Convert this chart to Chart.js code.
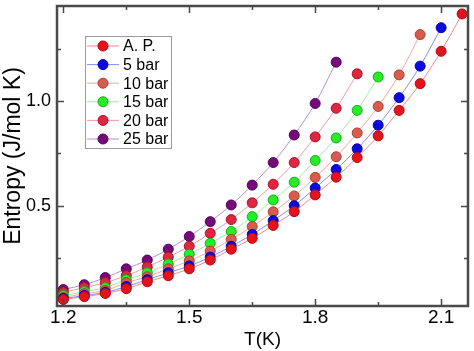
<!DOCTYPE html>
<html>
<head>
<meta charset="utf-8">
<script src="https://cdn.jsdelivr.net/npm/chart.js@4"></script>
<style>
  html, body { margin: 0; padding: 0; background: #fff; }
  #wrap { width: 474px; height: 351px; }
</style>
</head>
<body>
<div id="wrap"><canvas id="entropyChart" width="474" height="351"></canvas></div>
<script>
// Temperatures (K) shared by all runs
const temps = [1.2, 1.25, 1.3, 1.35, 1.4, 1.45, 1.5, 1.55, 1.6, 1.65,
               1.7, 1.75, 1.8, 1.85, 1.9, 1.95, 2.0, 2.05, 2.1, 2.15];

// Entropy (J/mol K) per pressure
const entropyAP    = [0.050, 0.064, 0.079, 0.102, 0.135, 0.164, 0.197, 0.239, 0.291, 0.343,
                      0.405, 0.471, 0.551, 0.636, 0.730, 0.834, 0.956, 1.084, 1.239, 1.418];
const entropy5bar  = [0.055, 0.069, 0.084, 0.112, 0.145, 0.178, 0.211, 0.253, 0.305, 0.362,
                      0.428, 0.499, 0.584, 0.673, 0.772, 0.885, 1.017, 1.168, 1.352];
const entropy10bar = [0.060, 0.078, 0.093, 0.131, 0.159, 0.197, 0.235, 0.282, 0.338, 0.400,
                      0.470, 0.546, 0.635, 0.734, 0.848, 0.975, 1.126, 1.319];
const entropy15bar = [0.069, 0.088, 0.107, 0.145, 0.178, 0.220, 0.267, 0.319, 0.376, 0.447,
                      0.527, 0.612, 0.716, 0.824, 0.956, 1.116];
const entropy20bar = [0.084, 0.107, 0.131, 0.164, 0.206, 0.253, 0.305, 0.367, 0.433, 0.513,
                      0.602, 0.706, 0.829, 0.966, 1.131];
const entropy25bar = [0.098, 0.121, 0.155, 0.197, 0.239, 0.291, 0.352, 0.423, 0.503, 0.598,
                      0.706, 0.838, 0.989, 1.187];

const seriesLabels = ['A. P.', '5 bar', '10 bar', '15 bar', '20 bar', '25 bar'];

// Tick labels
const xTicks = [1.2, 1.5, 1.8, 2.1];
const xMinorTicks = [1.35, 1.65, 1.95];
const yTicks = [0.5, 1.0];
const yMinorTicks = [0.25, 0.75, 1.25];

const FONT = '"Liberation Sans", Arial, sans-serif';

function toPoints(values) {
    return values.map((v, i) => ({ x: temps[i], y: v }));
}

function makeSet(label, values, pointColor, pointBorder, lineColor) {
    return {
        label: label,
        data: toPoints(values),
        borderColor: lineColor,
        borderWidth: 1,
        pointRadius: 5,
        pointBackgroundColor: pointColor,
        pointBorderColor: pointBorder,
        pointBorderWidth: 1,
        tension: 0.3,
        fill: false
    };
}

// Frame, inward ticks on all four sides, and the boxed legend
const originStyle = {
    id: 'originStyle',
    afterDraw(chart) {
        const ctx = chart.ctx;
        const a = chart.chartArea;
        const xs = chart.scales.x, ys = chart.scales.y;
        ctx.save();
        ctx.strokeStyle = '#4a4a4a';
        ctx.lineWidth = 1.5;
        const tick = (list, len) => {
            list.forEach(v => {
                const px = Math.round(xs.getPixelForValue(v)) + 0.5;
                ctx.beginPath();
                ctx.moveTo(px, a.bottom); ctx.lineTo(px, a.bottom - len);
                ctx.moveTo(px, a.top); ctx.lineTo(px, a.top + len);
                ctx.stroke();
            });
        };
        const ytick = (list, len) => {
            list.forEach(v => {
                const py = Math.round(ys.getPixelForValue(v)) + 0.5;
                ctx.beginPath();
                ctx.moveTo(a.left, py); ctx.lineTo(a.left + len, py);
                ctx.moveTo(a.right, py); ctx.lineTo(a.right - len, py);
                ctx.stroke();
            });
        };
        tick(xTicks, 7);
        tick(xMinorTicks, 4);
        ytick(yTicks, 7);
        ytick(yMinorTicks, 4);
        ctx.lineWidth = 2.5;
        ctx.strokeRect(a.left, a.top, a.right - a.left, a.bottom - a.top);

        // legend
        const bx = 85, by = 36.5, bw = 86, bh = 112, row = 18.6;
        ctx.lineWidth = 1;
        ctx.strokeStyle = '#9a9a9a';
        ctx.fillStyle = '#fff';
        ctx.fillRect(bx, by, bw, bh);
        ctx.strokeRect(bx + 0.5, by, bw, bh);
        ctx.font = '16px ' + FONT;
        ctx.textBaseline = 'middle';
        chart.data.datasets.forEach((ds, i) => {
            const y = by + 9.5 + i * row;
            ctx.strokeStyle = ds.borderColor;
            ctx.beginPath();
            ctx.moveTo(bx + 2, y); ctx.lineTo(bx + 34, y);
            ctx.stroke();
            ctx.beginPath();
            ctx.arc(bx + 18, y, 5, 0, Math.PI * 2);
            ctx.fillStyle = ds.pointBackgroundColor;
            ctx.fill();
            ctx.strokeStyle = ds.pointBorderColor;
            ctx.stroke();
            ctx.fillStyle = '#000';
            ctx.fillText(ds.label, bx + 38, y + 1);
        });
        ctx.restore();
    }
};

const ctx = document.getElementById('entropyChart').getContext('2d');
new Chart(ctx, {
    type: 'line',
    data: {
        datasets: [
            makeSet(seriesLabels[0], entropyAP,    '#e5121c', '#b00810', '#f08a8a'),
            makeSet(seriesLabels[1], entropy5bar,  '#0a0ae0', '#0606a0', '#8a8af5'),
            makeSet(seriesLabels[2], entropy10bar, '#d85c4c', '#a84030', '#f4a898'),
            makeSet(seriesLabels[3], entropy15bar, '#26ee26', '#18a818', '#98f098'),
            makeSet(seriesLabels[4], entropy20bar, '#de2640', '#a81428', '#f29aa6'),
            makeSet(seriesLabels[5], entropy25bar, '#760a78', '#50045a', '#c08ccc')
        ]
    },
    options: {
        responsive: false,
        animation: false,
        layout: { padding: { left: 0, right: 6, top: 2, bottom: 0 } },
        plugins: {
            legend: { display: false },
            tooltip: { enabled: false }
        },
        scales: {
            x: {
                type: 'linear',
                min: 1.185,
                max: 2.164,
                afterBuildTicks: s => { s.ticks = xTicks.map(v => ({ value: v })); },
                afterFit: s => { s.height = 45; s.paddingLeft = 0; s.paddingRight = 0; },
                grid: { display: false, drawTicks: false },
                border: { display: false },
                ticks: {
                    color: '#000',
                    padding: 0,
                    font: { family: FONT, size: 19 },
                    callback: v => v.toFixed(1)
                },
                title: {
                    display: true,
                    text: 'T(K)',
                    color: '#000',
                    padding: { top: -2, bottom: 0 },
                    font: { family: FONT, size: 19 }
                }
            },
            y: {
                min: 0.019,
                max: 1.456,
                afterBuildTicks: s => { s.ticks = yTicks.map(v => ({ value: v })); },
                afterFit: s => { s.width = 57; s.paddingTop = 0; s.paddingBottom = 0; },
                grid: { display: false, drawTicks: false },
                border: { display: false },
                ticks: {
                    color: '#000',
                    padding: 6,
                    font: { family: FONT, size: 18 },
                    callback: v => v.toFixed(1)
                },
                title: {
                    display: true,
                    text: 'Entropy (J/mol K)',
                    color: '#000',
                    padding: { top: 0, bottom: 0 },
                    font: { family: FONT, size: 23 }
                }
            }
        }
    },
    plugins: [originStyle]
});
</script>
</body>
</html>
